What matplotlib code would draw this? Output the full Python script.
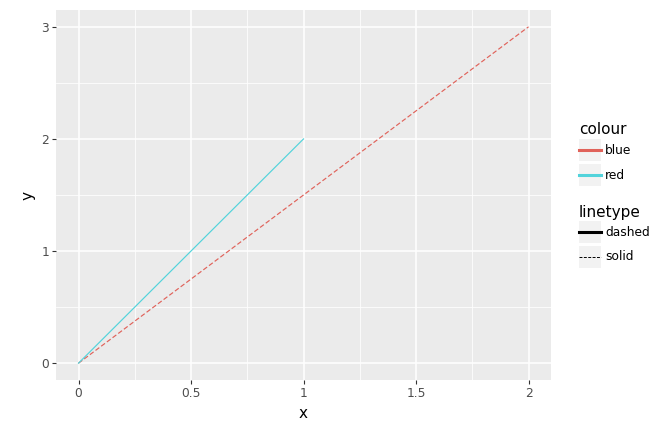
import matplotlib
matplotlib.use("Agg")
import matplotlib.pyplot as plt
from matplotlib.patches import Rectangle
from matplotlib.lines import Line2D

# data
x_blue = [0, 2]
y_blue = [0, 3]
x_red = [0, 1]
y_red = [0, 2]
colour_labels = ["blue", "red"]
linetype_labels = ["dashed", "solid"]
xticks = [0, 0.5, 1, 1.5, 2]
xtick_labels = ["0", "0.5", "1", "1.5", "2"]
yticks = [0, 1, 2, 3]

c_red = "#E0625A"
c_cyan = "#52D3DB"

W, H = 666, 426
fig = plt.figure(figsize=(W / 100, H / 100), dpi=100)
ax = fig.add_axes([56 / W, 1 - 380 / H, (551 - 56) / W, (380 - 10) / H])
ax.set_facecolor("#EBEBEB")
for s in ax.spines.values():
    s.set_visible(False)

ax.plot(x_blue, y_blue, color=c_red, lw=0.85, ls=(0, (4, 2)))
ax.plot(x_red, y_red, color=c_cyan, lw=0.85)

ax.set_xlim(-0.1, 2.1)
ax.set_ylim(-0.15, 3.15)
ax.set_xticks(xticks)
ax.set_xticklabels(xtick_labels)
ax.set_yticks(yticks)
ax.set_xticks([0.25, 0.75, 1.25, 1.75], minor=True)
ax.set_yticks([0.5, 1.5, 2.5], minor=True)
ax.grid(which="major", color="white", lw=1.1)
ax.grid(which="minor", color="white", lw=0.55)
ax.set_axisbelow(True)
ax.tick_params(which="major", length=3, width=0.8, color="#333333",
               labelcolor="#4D4D4D", labelsize=8.8, pad=2)
ax.tick_params(which="minor", length=0)
ax.set_xlabel("x", fontsize=11, labelpad=4)
ax.set_ylabel("y", fontsize=11, labelpad=4)


def px(xp, yp):
    return xp / W, 1 - yp / H


# legend drawn in pixel space
def key(y_top, color, lw, ls):
    x0, y0 = px(579, y_top + 22)
    fig.add_artist(Rectangle((x0, y0), 22 / W, 22 / H, transform=fig.transFigure,
                             facecolor="#F2F2F2", edgecolor="none"))
    xa, ym = px(579, y_top + 11)
    xb, _ = px(601, 0)
    fig.add_artist(Line2D([xa, xb], [ym, ym], transform=fig.transFigure,
                          color=color, lw=lw, ls=ls))


tx, ty = px(579, 130)
fig.text(tx, ty, "colour", fontsize=11, va="center", ha="left")
key(139, c_red, 2.2, "-")
key(164, c_cyan, 2.2, "-")
for lab, yk in zip(colour_labels, [150, 175]):
    lx, ly = px(605, yk)
    fig.text(lx, ly, lab, fontsize=8.8, va="center", ha="left")

tx, ty = px(579, 212)
fig.text(tx, ty, "linetype", fontsize=11, va="center", ha="left")
key(221, "black", 2.2, "-")
key(246, "black", 0.7, (0, (3, 1.5)))
for lab, yk in zip(linetype_labels, [232, 257]):
    lx, ly = px(605, yk)
    fig.text(lx, ly, lab, fontsize=8.8, va="center", ha="left")

fig.savefig("out.png", dpi=100)
